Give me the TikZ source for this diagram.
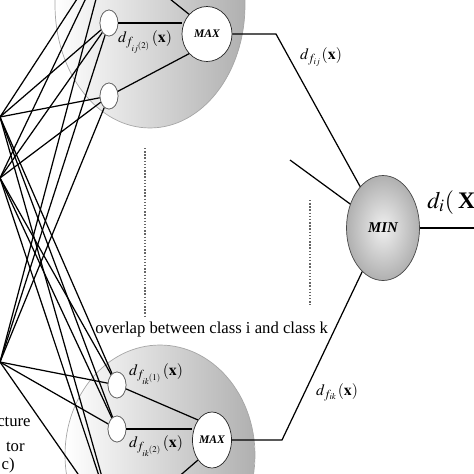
\documentclass[tikz,border=0pt]{standalone}
\usepackage{mathptmx}
\usepackage{fontspec}
\setmainfont{Liberation Serif}
\usetikzlibrary{shapes.geometric}

\begin{document}
\begin{tikzpicture}[x=0.02cm,y=-0.02cm,
  hbox/.style={ellipse,draw=gray!80!black,fill=white,minimum width=3.6mm,minimum height=5.2mm,inner sep=0pt},
  maxnode/.style={ellipse,draw=black!85,fill=white,inner sep=0pt,font=\fontsize{6.6}{7}\selectfont\bfseries\itshape},
  class/.style={draw=gray!70,line width=0.4pt,left color=white,right color=gray!62},
  wire/.style={line width=0.7pt},
  sep/.style={densely dotted,gray!80!black,line width=0.8pt},
  lbl/.style={inner sep=0pt,font=\fontsize{9}{10}\selectfont},
  side/.style={inner sep=0pt,anchor=base east,font=\fontsize{9.5}{11}\selectfont}
]
\useasboundingbox (0,0) rectangle (474,474);
\clip (0,0) rectangle (474,474);

% class regions
\path[class] (150,5) ellipse [x radius=1.9cm,y radius=2.46cm];
\path[class] (160,455) ellipse [x radius=1.9cm,y radius=2.2cm];

% feature inputs
\coordinate (in1) at (0,117);
\coordinate (in2) at (0,178);
\coordinate (in3) at (0,362);

% hyperbox nodes
\node[hbox] (a0) at (109,-50) {};
\node[hbox] (a1) at (109,23) {};
\node[hbox] (a2) at (109,96) {};
\node[hbox] (b1) at (117,385) {};
\node[hbox] (b2) at (117,429) {};
\node[hbox] (b3) at (117,530) {};

\foreach \i in {in1,in2,in3}
  \foreach \h in {a0,a1,a2,b1,b2,b3}
    \draw[wire] (\i) -- (\h);
% redraw hyperboxes over the wires
\foreach \h in {a0,a1,a2,b1,b2,b3}
  \node[hbox] at (\h) {};

% max and min nodes
\node[maxnode,minimum width=10mm,minimum height=11mm] (maxA) at (207,34) {MAX};
\node[maxnode,minimum width=7.8mm,minimum height=11.2mm] (maxB) at (212,440) {MAX};
\node[ellipse,draw=gray!55!black,inner color=gray!12,outer color=gray!62,
  minimum width=14.6mm,minimum height=21mm,inner sep=0pt,
  font=\fontsize{8.5}{9}\selectfont\bfseries\itshape] (minN) at (383,228) {MIN};

\coordinate (bendA) at (276,34);
\coordinate (bendB) at (282,440);
\coordinate (stub) at (290,160);
\coordinate (out) at (480,228);

\draw[wire] (a0) -- (maxA.north west);
\draw[wire] (a1) -- (a1 -| maxA.west);
\draw[wire] (a2) -- (maxA.south west);
\draw[wire] (b1) -- (maxB.north west);
\draw[wire] (b2) -- (b2 -| maxB.west);
\draw[wire] (b3) -- (maxB.south west);
\draw[wire] (maxA.east) -- (bendA) -- (minN);
\draw[wire] (maxB.east) -- (bendB) -- (minN);
\draw[wire] (stub) -- (minN);
\draw[wire] (minN.east) -- (out);

% labels
\node[lbl] (labA2) at (145,42) {$d_{f_{ij^{(2)}}}(\mathbf{x})$};
\node[lbl] (labA) at (321,57) {$d_{f_{ij}}(\mathbf{x})$};
\node[lbl] (labB1) at (156,374) {$d_{f_{ik^{(1)}}}(\mathbf{x})$};
\node[lbl] (labB2) at (156,446) {$d_{f_{ik^{(2)}}}(\mathbf{x})$};
\node[lbl] (labB) at (337,392) {$d_{f_{ik}}(\mathbf{x})$};
\node[inner sep=0pt,anchor=base west,font=\fontsize{13.5}{15}\selectfont] (di) at (427,208) {$d_i($\,\textbf{X}};

\draw[sep] (145,148) -- (145,317);
\draw[sep] (310,200) -- (310,305);
\node[inner sep=0pt,anchor=base west,font=\fontsize{9.5}{11}\selectfont] (ovl) at (95,333) {overlap between class i and class k};

\node[side] (t1) at (31,426) {cture};
\node[side] (t2) at (25,451) {tor};
\node[side] (t3) at (15,469) {c)};
\end{tikzpicture}
\end{document}
